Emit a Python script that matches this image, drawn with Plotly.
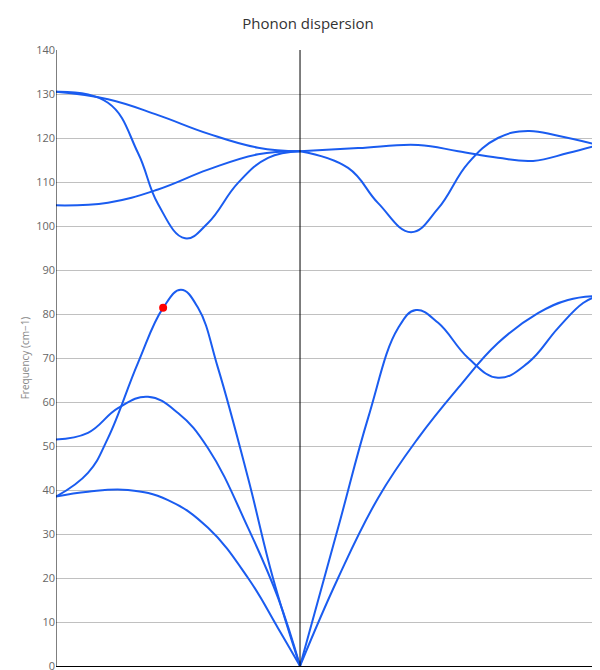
import plotly.graph_objects as go

K_MID = 1.0
K_END = 2.221

# Branches: (k values, frequencies)
band_a_k = [0, 0.213, 0.418, 0.623, 0.828, 1.0]
band_a_f = [130.5, 128.8, 125.2, 121.0, 117.8, 117.0]
band_b_k = [0, 0.213, 0.336, 0.418, 0.529, 0.623, 0.746, 0.869, 1.0]
band_b_f = [130.5, 128.0, 116.6, 105.0, 97.2, 100.7, 109.8, 115.5, 117.0]
band_c_k = [0, 0.213, 0.418, 0.623, 0.828, 1.0]
band_c_f = [104.7, 105.3, 108.3, 112.8, 116.3, 117.0]
band_d_k = [0, 0.131, 0.213, 0.336, 0.439, 0.512, 0.582, 0.664, 0.787, 0.889, 1.0]
band_d_f = [38.5, 43.9, 51.8, 68.9, 81.4, 85.5, 81.4, 67.7, 42.7, 20.0, 0.0]
band_e_k = [0, 0.131, 0.254, 0.377, 0.5, 0.623, 0.787, 0.91, 1.0]
band_e_f = [51.5, 53.0, 58.6, 61.2, 57.5, 49.5, 31.4, 15.5, 0.0]
band_f_k = [0, 0.131, 0.295, 0.459, 0.623, 0.787, 0.91, 1.0]
band_f_f = [38.5, 39.6, 40.0, 37.7, 31.4, 20.0, 8.6, 0.0]

band_g_k = [1.0, 1.238, 1.484, 1.648, 1.811, 1.955, 2.098, 2.221]
band_g_f = [117.0, 117.7, 118.4, 117.0, 115.5, 114.8, 116.6, 118.4]
band_h_k = [1.0, 1.197, 1.32, 1.455, 1.566, 1.689, 1.811, 1.934, 2.057, 2.221]
band_h_f = [117.0, 113.2, 105.2, 98.6, 104.0, 114.3, 120.0, 121.6, 120.5, 118.4]
band_i_k = [1.0, 1.156, 1.279, 1.402, 1.475, 1.566, 1.689, 1.811, 1.934, 2.057, 2.16, 2.221]
band_i_f = [0.0, 31.4, 56.4, 76.8, 80.9, 78.0, 70.0, 65.5, 68.9, 76.8, 82.5, 84.1]
band_j_k = [1.0, 1.156, 1.32, 1.484, 1.648, 1.811, 1.975, 2.098, 2.221]
band_j_f = [0.0, 20.0, 38.2, 51.8, 63.2, 73.4, 80.2, 83.2, 84.1]

marker_k = [0.439]
marker_f = [81.4]

y_ticks = list(range(0, 141, 10))

bands = [(band_a_k, band_a_f), (band_b_k, band_b_f), (band_c_k, band_c_f),
         (band_d_k, band_d_f), (band_e_k, band_e_f), (band_f_k, band_f_f),
         (band_g_k, band_g_f), (band_h_k, band_h_f), (band_i_k, band_i_f),
         (band_j_k, band_j_f)]

fig = go.Figure()
for k, f in bands:
    fig.add_trace(go.Scatter(x=k, y=f, mode="lines",
                             line=dict(color="#1a5cf0", width=2, shape="spline", smoothing=1.2),
                             hoverinfo="skip"))
fig.add_trace(go.Scatter(x=marker_k, y=marker_f, mode="markers",
                         marker=dict(color="#ff0000", size=8)))

for xv in [0, K_MID, K_END]:
    fig.add_shape(type="line", x0=xv, x1=xv, y0=0, y1=140, xref="x", yref="y",
                  line=dict(color="#000000", width=1))

fig.update_layout(
    width=600, height=670, showlegend=False,
    paper_bgcolor="white", plot_bgcolor="white",
    margin=dict(l=48, r=10, t=42, b=12, autoexpand=False),
    title=dict(text="Phonon dispersion", x=0.5, y=0.985, xanchor="center",
               font=dict(family="Open Sans, DejaVu Sans", size=15, color="#333333")),
    font=dict(family="Open Sans, DejaVu Sans", color="#666666", size=11),
    xaxis=dict(range=[0, K_END], showgrid=False, showticklabels=False, zeroline=False,
               showline=True, linecolor="#000000", linewidth=1, ticks="", automargin=False),
    yaxis=dict(range=[0, 140], tickvals=y_ticks, showgrid=True, gridcolor="#c0c0c0",
               zeroline=False, showline=False, ticks="", automargin=False,
               title=dict(text="Frequency (cm−1)", standoff=4, font=dict(size=10, color="#888888"))),
)
fig.add_annotation(text="Highcharts.com", xref="paper", yref="paper", x=1.0, y=-0.003,
                   xanchor="right", yanchor="top", showarrow=False,
                   font=dict(size=8, color="#999999"))
fig.write_html("out.html")
